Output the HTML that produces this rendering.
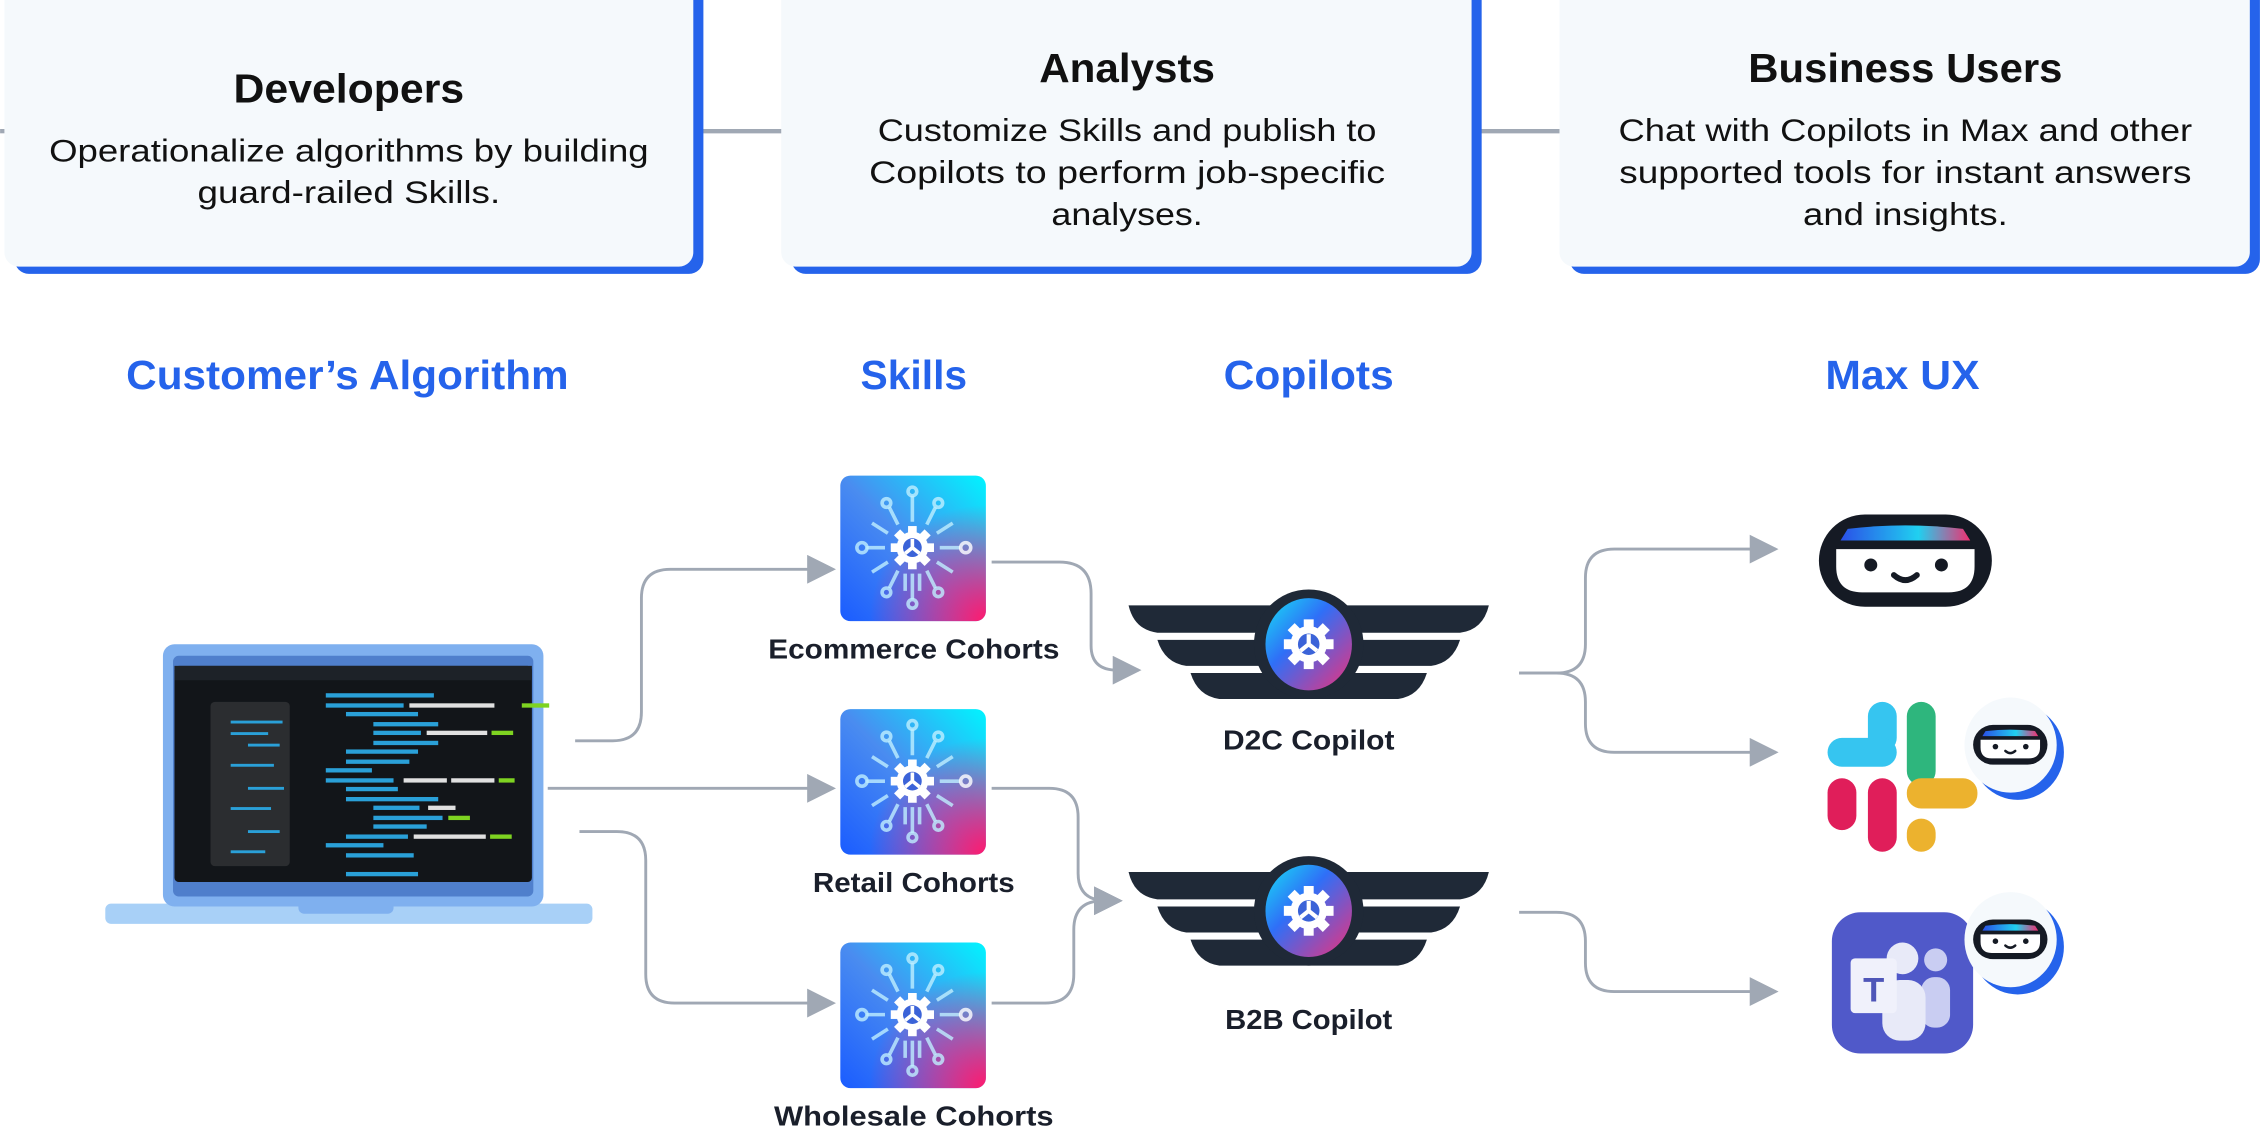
<!DOCTYPE html>
<html><head><meta charset="utf-8"><style>
html,body{margin:0;padding:0;background:#fff;}
svg{display:block;font-family:"Liberation Sans",sans-serif;}
</style></head><body>
<svg width="2260" height="1139" viewBox="0 0 1568 790.3" xmlns="http://www.w3.org/2000/svg">
<defs>
<linearGradient id="sg" x1="0" y1="1" x2="1" y2="0"><stop offset="0" stop-color="#1a5cff"/><stop offset="0.5" stop-color="#4a8cf0"/><stop offset="1" stop-color="#00f5ff"/></linearGradient>
<radialGradient id="pk" cx="1" cy="1" r="0.8"><stop offset="0" stop-color="#ff1a6e" stop-opacity="1"/><stop offset="1" stop-color="#ff1a6e" stop-opacity="0"/></radialGradient>
<linearGradient id="cg" x1="0" y1="0" x2="1" y2="1"><stop offset="0" stop-color="#16e0f5"/><stop offset="0.4" stop-color="#2f6ff7"/><stop offset="1" stop-color="#f0307a"/></linearGradient>
<linearGradient id="mg" x1="0" y1="0" x2="1" y2="0"><stop offset="0" stop-color="#2a50e8"/><stop offset="0.6" stop-color="#20d0f0"/><stop offset="1" stop-color="#f03070"/></linearGradient>
<g id="gear" fill="#fff">
<circle r="11"/>
<g><rect x="-3" y="-15" width="6" height="30"/><rect x="-15" y="-3" width="30" height="6"/><rect x="-3" y="-15" width="6" height="30" transform="rotate(45)"/><rect x="-3" y="-15" width="6" height="30" transform="rotate(-45)"/></g>
<circle r="6.5" fill="#3b63d8"/><path d="M0,0 L0,-6 M0,0 L5,4 M0,0 L-5,4" stroke="#fff" stroke-width="2.5"/>
</g>
<g id="skill">
<rect width="101" height="101" rx="7" fill="url(#sg)"/>
<rect width="101" height="101" rx="7" fill="url(#pk)"/>
<g stroke="#bfefff" stroke-width="2.5" fill="none" stroke-opacity="0.8">
<path d="M50,32 V14 M40,34 L34,22 M60,34 L66,22 M33,40 L22,33 M67,40 L78,33 M31,50 H18 M69,50 H83 M33,60 L22,67 M67,60 L78,67 M40,66 L34,78 M60,66 L66,78 M50,68 V86 M45,68 V80 M55,68 V80"/>
<circle cx="50" cy="11" r="3"/><circle cx="32" cy="19" r="3"/><circle cx="68" cy="19" r="3"/><circle cx="15" cy="50" r="3.5"/><circle cx="87" cy="50" r="3.5" stroke="#fff"/><circle cx="32" cy="81" r="3"/><circle cx="68" cy="81" r="3"/><circle cx="50" cy="89" r="3"/>
</g>
<use href="#gear" x="50" y="50"/>
</g>
<g id="wing">
<g fill="#1f2937">
<path d="M-125,-27 H125 Q121,-10 105,-8 H-105 Q-121,-10 -125,-27Z"/>
<path d="M-105,-3 H105 Q100,13 85,15 H-85 Q-100,13 -105,-3Z"/>
<path d="M-82,20 H82 Q77,36 62,38 H-62 Q-77,36 -82,20Z"/>
<circle r="38"/>
</g>
<ellipse rx="30" ry="32" fill="url(#cg)"/>
<use href="#gear" transform="scale(1.15)"/>
</g>
<g id="max">
<rect x="0" y="0" width="120" height="64" rx="32" fill="#151a24"/>
<path d="M20,10 Q60,5 100,10 L105,18 H15Z" fill="url(#mg)"/>
<path d="M12,24 H108 V36 Q108,54 90,54 H30 Q12,54 12,36Z" fill="#fff"/>
<circle cx="36" cy="35" r="4.5" fill="#151a24"/><circle cx="85" cy="35" r="4.5" fill="#151a24"/>
<path d="M52,42 Q60,49 68,42" stroke="#151a24" stroke-width="4" fill="none" stroke-linecap="round"/>
</g>
<g id="badge">
<ellipse cx="5" cy="5" rx="32" ry="33" fill="#2563eb"/>
<ellipse cx="0" cy="0" rx="32" ry="33" fill="#f5f9fc"/>
<use href="#max" transform="translate(-26,-14) scale(0.43)"/>
</g>
<marker id="ar" viewBox="0 0 10 10" refX="9" refY="5" markerWidth="20" markerHeight="20" markerUnits="userSpaceOnUse" orient="auto"><path d="M0,0 L10,5 L0,10Z" fill="#a0a8b4"/></marker>
</defs>

<g stroke="#a0a8b4" stroke-width="3"><line x1="0" y1="91" x2="6" y2="91"/><line x1="485" y1="91" x2="543" y2="91"/><line x1="1025" y1="91" x2="1083" y2="91"/></g>
<rect x="10" y="-12" width="478" height="202" rx="10" fill="#2563eb"/>
<rect x="3" y="-14" width="478" height="199" rx="10" fill="#f5f9fc"/>
<rect x="549" y="-12" width="479" height="202" rx="10" fill="#2563eb"/>
<rect x="542" y="-14" width="479" height="199" rx="10" fill="#f5f9fc"/>
<rect x="1089" y="-12" width="479" height="202" rx="10" fill="#2563eb"/>
<rect x="1082" y="-14" width="479" height="199" rx="10" fill="#f5f9fc"/>
<g text-anchor="middle" fill="#111" lengthAdjust="spacingAndGlyphs">
<text x="242" y="71" font-size="28" font-weight="bold" textLength="160" lengthAdjust="spacingAndGlyphs">Developers</text>
<text x="242" y="112" font-size="22" textLength="416" lengthAdjust="spacingAndGlyphs">Operationalize algorithms by building</text>
<text x="242" y="141" font-size="22" textLength="210" lengthAdjust="spacingAndGlyphs">guard-railed Skills.</text>
<text x="782" y="57" font-size="28" font-weight="bold" textLength="122" lengthAdjust="spacingAndGlyphs">Analysts</text>
<text x="782" y="98" font-size="22" textLength="346" lengthAdjust="spacingAndGlyphs">Customize Skills and publish to</text>
<text x="782" y="127" font-size="22" textLength="358" lengthAdjust="spacingAndGlyphs">Copilots to perform job-specific</text>
<text x="782" y="156" font-size="22" textLength="105" lengthAdjust="spacingAndGlyphs">analyses.</text>
<text x="1322" y="57" font-size="28" font-weight="bold" textLength="218" lengthAdjust="spacingAndGlyphs">Business Users</text>
<text x="1322" y="98" font-size="22" textLength="398" lengthAdjust="spacingAndGlyphs">Chat with Copilots in Max and other</text>
<text x="1322" y="127" font-size="22" textLength="397" lengthAdjust="spacingAndGlyphs">supported tools for instant answers</text>
<text x="1322" y="156" font-size="22" textLength="142" lengthAdjust="spacingAndGlyphs">and insights.</text>
</g>
<g text-anchor="middle" fill="#2563eb" font-size="28" font-weight="bold">
<text x="241" y="270" textLength="307" lengthAdjust="spacingAndGlyphs">Customer’s Algorithm</text>
<text x="634" y="270" textLength="74" lengthAdjust="spacingAndGlyphs">Skills</text>
<text x="908" y="270" textLength="118" lengthAdjust="spacingAndGlyphs">Copilots</text>
<text x="1320" y="270" textLength="107" lengthAdjust="spacingAndGlyphs">Max UX</text>
</g>

<g stroke="#a0a8b4" stroke-width="2" fill="none" marker-end="url(#ar)">
<path d="M399,514 H425 Q445,514 445,494 V415 Q445,395 465,395 H578"/>
<path d="M380,547 H578"/>
<path d="M402,577 H428 Q448,577 448,597 V676 Q448,696 468,696 H578"/>
<path d="M688,390 H735 Q757,390 757,412 V448 Q757,465 775,465 H790"/>
<path d="M688,547 H728 Q748,547 748,567 V606 Q748,625 768,625 H777"/>
<path d="M688,696 H725 Q745,696 745,676 V645 Q745,625 765,625 H777"/>
<path d="M1054,467 H1080 Q1100,467 1100,447 V401 Q1100,381 1120,381 H1232"/>
<path d="M1054,467 H1080 Q1100,467 1100,487 V502 Q1100,522 1120,522 H1232"/>
<path d="M1054,633 H1080 Q1100,633 1100,653 V668 Q1100,688 1120,688 H1232"/>
</g>

<rect x="73" y="627" width="338" height="14" rx="4" fill="#a8d0f7"/>
<rect x="207" y="625" width="66" height="9" rx="4" fill="#7fb0ef"/>
<rect x="113" y="447" width="264" height="182" rx="8" fill="#7fb0ef"/>
<rect x="120" y="455" width="250" height="167" rx="4" fill="#4f7fcc"/>
<rect x="121" y="462" width="248" height="150" rx="3" fill="#121519"/>
<rect x="121" y="462" width="248" height="10" fill="#1d2228"/>
<rect x="146" y="487" width="55" height="114" rx="3" fill="#2b2d30"/>
<g fill="#2aa0d8">
<rect x="226" y="481" width="75" height="3"/><rect x="226" y="488" width="54" height="3"/><rect x="240" y="494" width="50" height="3"/><rect x="259" y="501" width="45" height="3"/><rect x="259" y="507" width="33" height="3"/><rect x="259" y="514" width="45" height="3"/><rect x="240" y="520" width="50" height="3"/><rect x="240" y="527" width="44" height="3"/><rect x="226" y="533" width="32" height="3"/><rect x="226" y="540" width="47" height="3"/><rect x="240" y="546" width="36" height="3"/><rect x="240" y="553" width="64" height="3"/><rect x="259" y="559" width="32" height="3"/><rect x="259" y="566" width="48" height="3"/><rect x="259" y="572" width="37" height="3"/><rect x="240" y="579" width="43" height="3"/><rect x="226" y="585" width="40" height="3"/><rect x="240" y="592" width="47" height="3"/><rect x="240" y="605" width="50" height="3"/>
<rect x="160" y="500" width="36" height="2"/><rect x="160" y="508" width="26" height="2"/><rect x="172" y="516" width="22" height="2"/><rect x="160" y="530" width="30" height="2"/><rect x="172" y="546" width="25" height="2"/><rect x="160" y="560" width="28" height="2"/><rect x="172" y="576" width="22" height="2"/><rect x="160" y="590" width="24" height="2"/>
</g>
<g fill="#e0e0e0"><rect x="284" y="488" width="59" height="3"/><rect x="296" y="507" width="42" height="3"/><rect x="280" y="540" width="30" height="3"/><rect x="313" y="540" width="30" height="3"/><rect x="297" y="559" width="19" height="3"/><rect x="287" y="579" width="50" height="3"/></g>
<g fill="#7ed321"><rect x="362" y="488" width="19" height="3"/><rect x="341" y="507" width="15" height="3"/><rect x="346" y="540" width="11" height="3"/><rect x="311" y="566" width="15" height="3"/><rect x="340" y="579" width="15" height="3"/></g>

<use href="#skill" x="583" y="330"/>
<use href="#skill" x="583" y="492"/>
<use href="#skill" x="583" y="654"/>
<g text-anchor="middle" fill="#1a1f2b" font-size="19" font-weight="bold">
<text x="634" y="457" textLength="202" lengthAdjust="spacingAndGlyphs">Ecommerce Cohorts</text>
<text x="634" y="619" textLength="140" lengthAdjust="spacingAndGlyphs">Retail Cohorts</text>
<text x="634" y="781" textLength="194" lengthAdjust="spacingAndGlyphs">Wholesale  Cohorts</text>
<text x="908" y="520" textLength="119" lengthAdjust="spacingAndGlyphs">D2C Copilot</text>
<text x="908" y="714" textLength="116" lengthAdjust="spacingAndGlyphs">B2B Copilot</text>
</g>
<use href="#wing" x="908" y="447"/>
<use href="#wing" x="908" y="632"/>

<use href="#max" x="1262" y="357"/>
<g>
<rect x="1296" y="487" width="20" height="35" rx="10" fill="#36c5f0"/><rect x="1268" y="512" width="48" height="20" rx="10" fill="#36c5f0"/>
<rect x="1323" y="487" width="20" height="58" rx="10" fill="#2eb67d"/>
<rect x="1268" y="540" width="20" height="36" rx="10" fill="#e01e5a"/><rect x="1296" y="540" width="20" height="51" rx="10" fill="#e01e5a"/>
<rect x="1323" y="540" width="49" height="21" rx="10" fill="#ecb22e"/><rect x="1323" y="568" width="20" height="23" rx="10" fill="#ecb22e"/>
</g>
<use href="#badge" x="1395" y="517"/>
<rect x="1271" y="633" width="98" height="98" rx="20" fill="#5059c9"/>
<circle cx="1320" cy="665" r="11" fill="#e8eaf8"/><circle cx="1343" cy="666" r="8" fill="#c9cdf2"/>
<rect x="1333" y="678" width="20" height="35" rx="9" fill="#c9cdf2"/>
<rect x="1306" y="680" width="30" height="42" rx="12" fill="#e8eaf8"/>
<rect x="1284" y="665" width="32" height="38" rx="3" fill="#f0f1fb"/>
<text x="1300" y="695" text-anchor="middle" font-size="24" font-weight="bold" fill="#4f56b8">T</text>
<use href="#badge" x="1395" y="652"/>
</svg>
</body></html>
